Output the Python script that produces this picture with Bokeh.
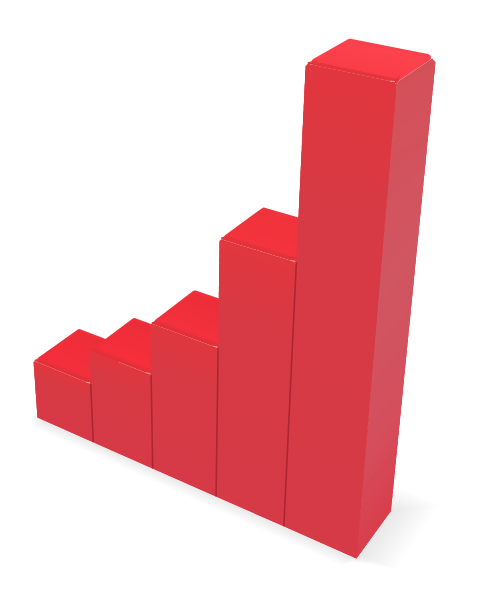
from bokeh.plotting import figure
from bokeh.models import ColumnDataSource
from bokeh.embed import file_html
from bokeh.resources import INLINE
from math import hypot

# Chart data: heights of the five columns (no text labels in the picture)
bar_positions = [0, 1, 2, 3, 4]
bar_values = [55.5, 86.2, 130.5, 216.1, 348.8]

# Perspective camera for the 3-D scene
ORIGIN = (37.0, 417.0)
AX, AY, AW = 52.96, 11.2, -0.03044
BX, BY, BW = 48.0, -15.5, 0.0483
CX, CY, CW = -0.0873, -1.195, -0.000467


def project(x, y, z):
    w = 1 + AW * x + BW * y + CW * z
    return ((ORIGIN[0] + AX * x + BX * y + CX * z) / w,
            (ORIGIN[1] + AY * x + BY * y + CY * z) / w)


def quad(corners):
    pts = [project(*c) for c in corners]
    return [p[0] for p in pts], [p[1] for p in pts]


def mix(stops, t):
    t = min(t, 1.0)
    for (t0, c0), (t1, c1) in zip(stops, stops[1:]):
        if t <= t1:
            f = (t - t0) / (t1 - t0)
            return "#%02x%02x%02x" % tuple(round(a + (b - a) * f) for a, b in zip(c0, c1))
    return "#%02x%02x%02x" % stops[-1][1]


def length(a, b):
    return hypot(a[0] - b[0], a[1] - b[1])


FRONT = [(0.0, (214, 58, 70)), (0.75, (215, 58, 68)), (1.0, (226, 54, 62))]
SIDE = [(0.0, (217, 62, 76)), (0.25, (212, 78, 92)), (0.6, (208, 86, 98)), (1.0, (212, 80, 88))]
TOPS = [
    [(0.0, (226, 48, 58)), (0.12, (244, 48, 60)), (1.0, (236, 46, 56))],
    [(0.0, (226, 48, 58)), (0.12, (246, 48, 60)), (1.0, (234, 46, 56))],
    [(0.0, (226, 48, 58)), (0.12, (244, 50, 62)), (1.0, (234, 46, 56))],
    [(0.0, (226, 50, 58)), (0.12, (244, 52, 62)), (1.0, (238, 52, 60))],
    [(0.0, (228, 52, 60)), (0.10, (250, 62, 72)), (1.0, (252, 70, 80))],
]
ROUND = 0.055    # corner inset relative to the column's width on screen
CUT = 0.4        # how much of the inset is cut from the front corners

p = figure(width=468, height=584, x_range=(0, 468), y_range=(584, 0),
           output_backend="svg", toolbar_location=None, min_border=0)
p.axis.visible = False
p.grid.visible = False
p.outline_line_color = None
p.background_fill_color = "white"

# Soft contact shadow on the floor
LAST = bar_positions[-1] + 1
shadow = {"xs": [], "ys": []}
for k in range(24, 0, -1):
    m = 0.02 * k
    f, s, b, e = m * 0.45, m * 0.35, m, m
    xs, ys = quad([(-s, 0.1, 0), (0.1, -f, 0), (LAST - 0.1, -f, 0), (LAST, -f * 0.4, 0),
                   (LAST + e, 0.1, 0), (LAST + e, 1 + b, 0), (-s, 1 + b, 0)])
    shadow["xs"].append(xs)
    shadow["ys"].append(ys)
p.patches("xs", "ys", source=ColumnDataSource(shadow), fill_color="black",
          fill_alpha=0.0035, line_color=None)

STRIPS = 40
for i, (pos, h) in enumerate(zip(bar_positions, bar_values)):
    right = pos + 1
    len_x = length(project(pos, 0, h), project(right, 0, h))
    len_y = length(project(pos, 0, h), project(pos, 1, h))
    len_z = length(project(pos, 0, 0), project(pos, 0, h)) / h
    r = ROUND * len_x
    dx, dy, dz = r / len_x, r / len_y, r / len_z

    # Top face: full shape with cut front corners, rounded back corners
    top_mid = mix(TOPS[i], 0.5)
    xs, ys = quad([(pos + dx, dy, h), (right - dx, dy, h), (right - dx, 1 - dy, h), (pos + dx, 1 - dy, h)])
    p.patch(xs, ys, fill_color=top_mid, line_color=top_mid, line_width=1.4 * r, line_join="round")
    xs, ys = quad([(pos + dx * CUT, 0, h), (right - dx * CUT, 0, h), (right, dy * CUT, h),
                   (right - dx, 2 * dy, h), (pos + dx, 2 * dy, h), (pos, dy * CUT, h)])
    p.patch(xs, ys, fill_color=TOPS[i][0][1], line_color=None)

    faces = {"xs": [], "ys": [], "c": []}
    for s in range(STRIPS):
        t0 = dy + (1 - 2 * dy) * s / STRIPS
        t1 = min(1 - dy, dy + (1 - 2 * dy) * (s + 1.7) / STRIPS)
        xs, ys = quad([(pos + dx, t0, h), (right - dx, t0, h), (right - dx, t1, h), (pos + dx, t1, h)])
        faces["xs"].append(xs); faces["ys"].append(ys); faces["c"].append(mix(TOPS[i], t0))
    p.patches("xs", "ys", source=ColumnDataSource(faces), fill_color="c", line_color=None)

    flat = h - dz * CUT
    faces = {"xs": [], "ys": [], "c": []}
    if i == len(bar_values) - 1:
        # the side face of the last column
        xs, ys = quad([(right, 0, 0), (right, 1, 0), (right, 1, h - dz), (right, 1 - dy, h), (right, dy * CUT, h), (right, 0, flat)])
        faces["xs"].append(xs); faces["ys"].append(ys); faces["c"].append(mix(SIDE, 1.0))
        for s in range(STRIPS):
            z0 = (h - dz) * s / STRIPS
            z1 = min(h - dz, (h - dz) * (s + 1.7) / STRIPS)
            xs, ys = quad([(right, 0, z0), (right, 1, z0), (right, 1, z1), (right, 0, z1)])
            faces["xs"].append(xs); faces["ys"].append(ys); faces["c"].append(mix(SIDE, z0 / h))
    # the front face, with its upper corners slightly cut
    xs, ys = quad([(pos, 0, 0), (right, 0, 0), (right, 0, flat), (right - dx * CUT, 0, h), (pos + dx * CUT, 0, h), (pos, 0, flat)])
    faces["xs"].append(xs); faces["ys"].append(ys); faces["c"].append(mix(FRONT, 1.0))
    for s in range(STRIPS):
        z0 = flat * s / STRIPS
        z1 = min(flat, flat * (s + 1.7) / STRIPS)
        xs, ys = quad([(pos, 0, z0), (right, 0, z0), (right, 0, z1), (pos, 0, z1)])
        faces["xs"].append(xs); faces["ys"].append(ys); faces["c"].append(mix(FRONT, z0 / h))
    p.patches("xs", "ys", source=ColumnDataSource(faces), fill_color="c", line_color=None)

    # Front right corner where the three faces meet
    xs, ys = quad([(right - dx * CUT, 0, h), (right, dy * CUT, h), (right, 0, flat)])
    p.patch(xs, ys, fill_color=mix(FRONT, 1.0), line_color=None)

    # Darker seam against the previous column
    if i > 0:
        xs, ys = quad([(pos, 0, 0), (pos, 0, bar_values[i - 1])])
        p.line(xs, ys, line_color="#ab2833", line_width=1.6)
    # Small specular glint on the front right corner of the top
    xs, ys = quad([(right - 0.07, 0.0, h), (right - 0.03, 0.015, h)])
    p.line(xs, ys, line_color="#ff9a9a", line_width=1.0, line_cap="round")

open("out.html", "w").write(file_html(p, INLINE))
